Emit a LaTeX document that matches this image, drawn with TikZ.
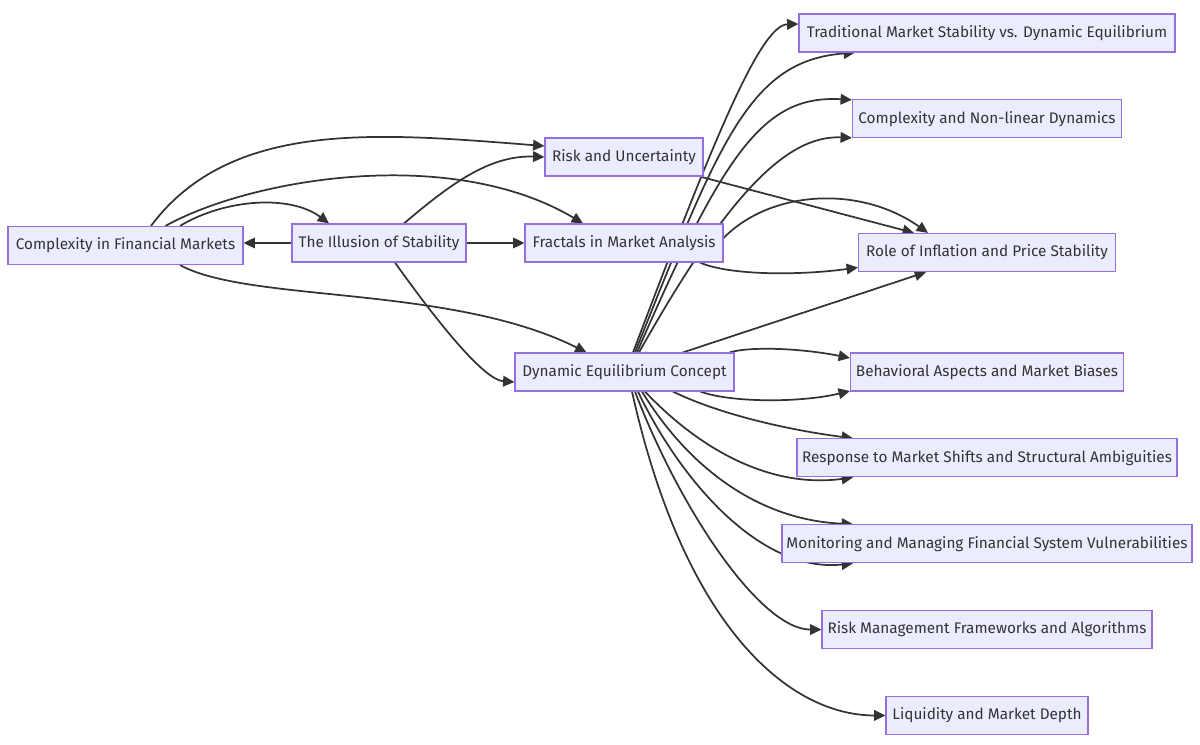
\documentclass[tikz,border=0pt]{standalone}
\usepackage{fontspec}
\setmainfont{Fira Sans}
\usepackage{xcolor}
\usetikzlibrary{arrows.meta,positioning,calc,backgrounds}
\definecolor{nodefill}{HTML}{ECECFF}
\definecolor{nodeline}{HTML}{9370DB}
\definecolor{edgeline}{HTML}{333333}

\begin{document}
\begin{tikzpicture}[
  x=0.75pt, y=-0.75pt,
  node distance=35pt,
  mbox/.style={draw=nodeline, line width=0.9pt, fill=nodefill, text=edgeline, inner xsep=0pt, minimum height=28.5pt, font=\fontsize{11.5}{13}\selectfont},
  arrow/.style={-{Triangle[length=8.5pt,width=8pt]}, line width=1.3pt, draw=edgeline}
]
\useasboundingbox (0,0) rectangle (1200,745);

\node[mbox, minimum width=176.25pt] (cfm) at (125.5,245.5) {Complexity in Financial Markets};
\node[mbox, minimum width=130.5pt] (ios) at (379,243) {The Illusion of Stability};
\node[mbox, minimum width=118.5pt] (rau) at (624,157) {Risk and Uncertainty};
\node[mbox, minimum width=148.5pt] (fma) at (624,243) {Fractals in Market Analysis};
\node[mbox, minimum width=164.25pt] (dec) at (624.5,372) {Dynamic Equilibrium Concept};
\node[mbox, minimum width=282pt] (tms) at (987,33) {Traditional Market Stability vs. Dynamic Equilibrium};
\node[mbox, minimum width=201.75pt, below=of tms] (cnd) {Complexity and Non-linear Dynamics};
\node[mbox, minimum width=192.75pt] (rip) at (987,252.5) {Role of Inflation and Price Stability};
\node[mbox, minimum width=204.75pt] (bam) at (987,372) {Behavioral Aspects and Market Biases};
\node[mbox, minimum width=285pt, below=of bam] (rms) {Response to Market Shifts and Structural Ambiguities};
\node[mbox, minimum width=307.5pt, below=of rms] (mmf) {Monitoring and Managing Financial System Vulnerabilities};
\node[mbox, minimum width=247.5pt, below=of mmf] (rmf) {Risk Management Frameworks and Algorithms};
\node[mbox, minimum width=151.5pt, below=of rmf] (lmd) {Liquidity and Market Depth};

\begin{pgfonlayer}{background}
\draw[arrow] (ios.west) -- (ios.west -| cfm.east);
\draw[arrow] (ios) -- (fma);
\draw[arrow] ($(cfm.north)+(25.5,0)$) .. controls +(80,-107) and +(-166,-13) .. ($(rau.west)+(0,-11)$);
\draw[arrow] ($(cfm.north)+(40,0)$) .. controls +(84.5,-47) and +(-133,-79) .. ($(fma.north)+(-41,0)$);
\draw[arrow] ($(cfm.north)+(54.5,0)$) .. controls +(45,-27) and +(-39,-29) .. ($(ios.north)+(-50,0)$);
\draw[arrow] ($(cfm.south)+(54.5,0)$) .. controls +(70,38) and +(-136.5,-68) .. ($(dec.north)+(-38,0)$);
\draw[arrow] ($(ios.north)+(25,0)$) .. controls +(46,-39) and +(-55,-2) .. (rau.west);
\draw[arrow] ($(ios.south)+(16,0)$) .. controls +(45,63) and +(-30,-2) .. ($(dec.west)+(0,10)$);
\draw[arrow] ($(rau.south)+(76,0)$) -- ($(rip.north)+(-73,0)$);
\draw[arrow] ($(fma.east)+(0,-5)$) .. controls +(47,-48) and +(-68,-48) .. ($(rip.north)+(-59,0)$);
\draw[arrow] ($(fma.south)+(76,0)$) .. controls +(30,13) and +(-58,8) .. ($(rip.west)+(0,15)$);
\draw[arrow] ($(dec.north)+(58.5,0)$) -- ($(rip.south)+(-61,0)$);
\draw[arrow] ($(dec.north)+(8.5,0)$) .. controls +(77,-203) and +(-39,1) .. ($(tms.west)+(0,-9)$);
\draw[arrow] ($(dec.north)+(10.5,0)$) .. controls +(85,-213) and +(-105,8) .. ($(tms.south)+(-132,0)$);
\draw[arrow] ($(dec.north)+(12.5,0)$) .. controls +(88,-203) and +(-87,-5) .. ($(cnd.west)+(0,-19)$);
\draw[arrow] ($(dec.north)+(14.5,0)$) .. controls +(86,-153) and +(-67,-3) .. ($(cnd.west)+(0,19)$);
\draw[arrow] ($(dec.north east)+(-5,0)$) .. controls +(20,-6) and +(-50,-10) .. ($(bam.west)+(0,-14)$);
\draw[arrow] ($(dec.south)+(76,0)$) .. controls +(30,11) and +(-50,12) .. ($(bam.west)+(0,19)$);
\draw[arrow] ($(dec.south)+(48.5,0)$) .. controls +(47,23) and +(-63,-8) .. ($(rms.north)+(-134,0)$);
\draw[arrow] ($(dec.south)+(20.5,0)$) .. controls +(55,58) and +(-83,11) .. ($(rms.south)+(-134,0)$);
\draw[arrow] ($(dec.south)+(17.5,0)$) .. controls +(48,78) and +(-93,-4) .. ($(mmf.north)+(-134,0)$);
\draw[arrow] ($(dec.south)+(13.5,0)$) .. controls +(42,88) and +(-93,10) .. ($(mmf.south)+(-134,0)$);
\draw[arrow] ($(dec.south)+(10.5,0)$) .. controls +(45,118) and +(-61,0) .. (rmf.west);
\draw[arrow] ($(dec.south)+(7.5,0)$) .. controls +(53,238) and +(-95,0) .. (lmd.west);
\end{pgfonlayer}
\end{tikzpicture}
\end{document}
